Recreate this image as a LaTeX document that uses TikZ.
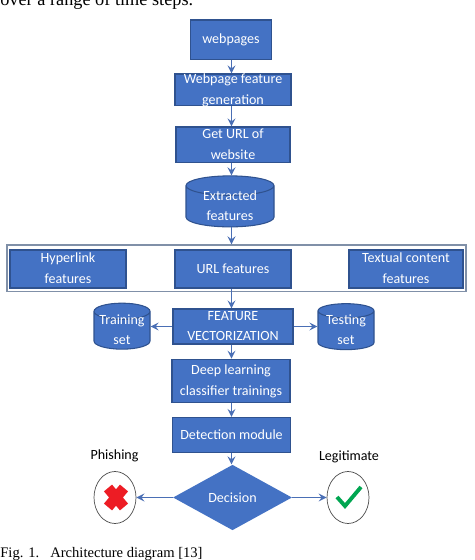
\documentclass[tikz,border=0pt]{standalone}
\usepackage{fontspec}
\setmainfont{Carlito}
\newfontfamily\capfont{Liberation Serif}
\usetikzlibrary{shapes.geometric}
\definecolor{boxblue}{HTML}{4472C4}
\definecolor{boxline}{HTML}{2F528F}
\definecolor{arrowblue}{HTML}{4A6FB5}
\definecolor{framegray}{HTML}{8090A8}
\definecolor{xred}{HTML}{ED1C24}
\definecolor{tickgreen}{HTML}{00A651}
\newcommand{\boxtext}[2]{\smash{\raisebox{-2pt}{\begin{tabular}{@{}c@{}}#1\\#2\end{tabular}}}}
\tikzset{
	bluebox/.style 2 args={draw=boxline,fill=boxblue,text=white,line width=.6pt,inner sep=0,minimum width=#1*.02cm,minimum height=#2*.02cm},
	bluecyl/.style 2 args={cylinder,shape border rotate=90,shape aspect=.36,draw=boxline,fill=boxblue,text=white,line width=.6pt,inner sep=0,minimum width=#1*.02cm,minimum height=#2*.02cm},
	flow/.style={->,draw=arrowblue,line width=1pt},
	result/.style={ellipse,draw=black!70,fill=white,line width=.4pt,inner sep=0,minimum width=42*.02cm,minimum height=52*.02cm}
}
\begin{document}
\begin{tikzpicture}[>=stealth,x=.02cm,y=-.02cm,font=\fontsize{8}{11.6}\selectfont]
	\useasboundingbox (0,0) rectangle (474,560);
	\fill[white] (0,0) rectangle (474,560);
	\coordinate (axis) at (231.5,0);
	\node[font=\capfont\fontsize{10.4}{11}\selectfont,anchor=base west,inner sep=0] (toptext) at (0,5.5) {over a range of time steps.};
	\node[bluebox={81}{39.5}] (web) at (231,39.75) {webpages};
	\node[bluebox={116}{31.5}] (gen) at (233,89.75) {\boxtext{Webpage feature}{generation}};
	\node[bluebox={114}{35.5}] (geturl) at (233,144.75) {\boxtext{Get URL of}{website}};
	\node[bluecyl={88}{51}] (extract) at (230,206.5) {\boxtext{Extracted}{features}};
	\node[draw=framegray,line width=.7pt,inner sep=0,minimum width=459*.02cm,minimum height=46.5*.02cm] (frame) at (236.5,268.25) {};
	\node[bluebox={116}{38}] (hyper) at (68,269) {\boxtext{Hyperlink}{features}};
	\node[bluebox={116}{38}] (urlfeat) at (233,269) {URL features};
	\node[bluebox={114}{38}] (textual) at (406,269) {\boxtext{Textual content}{features}};
	\node[bluebox={120}{35}] (vector) at (233,326.5) {\boxtext{FEATURE}{VECTORIZATION}};
	\node[bluecyl={56}{46}] (train) at (122,330.5) {\boxtext{Training}{set}};
	\node[bluecyl={56}{46}] (test) at (346,330.5) {\boxtext{Testing}{set}};
	\node[bluebox={118}{43.5}] (deep) at (231,381) {\boxtext{Deep learning}{classifier trainings}};
	\node[bluebox={118}{35}] (detect) at (231.5,435) {Detection module};
	\node[diamond,fill=boxblue,text=white,inner sep=0,minimum width=119*.02cm,minimum height=65.5*.02cm] (decide) at (232.5,497.5) {Decision};
	\node[result] (phish) at (115,497.5) {};
	\node[result] (legit) at (348,497.5) {};
	\node (phishtxt) at (114.5,456) {Phishing};
	\node (legittxt) at (349,456.5) {Legitimate};
	\node[font=\capfont\fontsize{8.3}{10}\selectfont,anchor=base west,inner sep=0] (caption) at (0,557) {Fig. 1.\hspace{.76em}Architecture diagram [13]};
	\foreach \from/\to in {web/gen,gen/geturl,geturl/extract,extract/frame,urlfeat/vector,vector/deep,deep/detect,detect/decide}
		\draw[flow] (axis |- \from.south) -- (axis |- \to.north);
	\draw[flow] (vector.west) -- (vector.west -| train.east);
	\draw[flow] (vector.east) -- (vector.east -| test.west);
	\draw[flow] (decide) -- (phish);
	\draw[flow] (decide) -- (legit);
	\draw[xred,line width=6pt] (108,488) -- (124,507) (124,488) -- (108,507);
	\draw[tickgreen,line width=2.2pt,line join=miter] (337,497) -- (345,506) -- (361,487);
\end{tikzpicture}
\end{document}
